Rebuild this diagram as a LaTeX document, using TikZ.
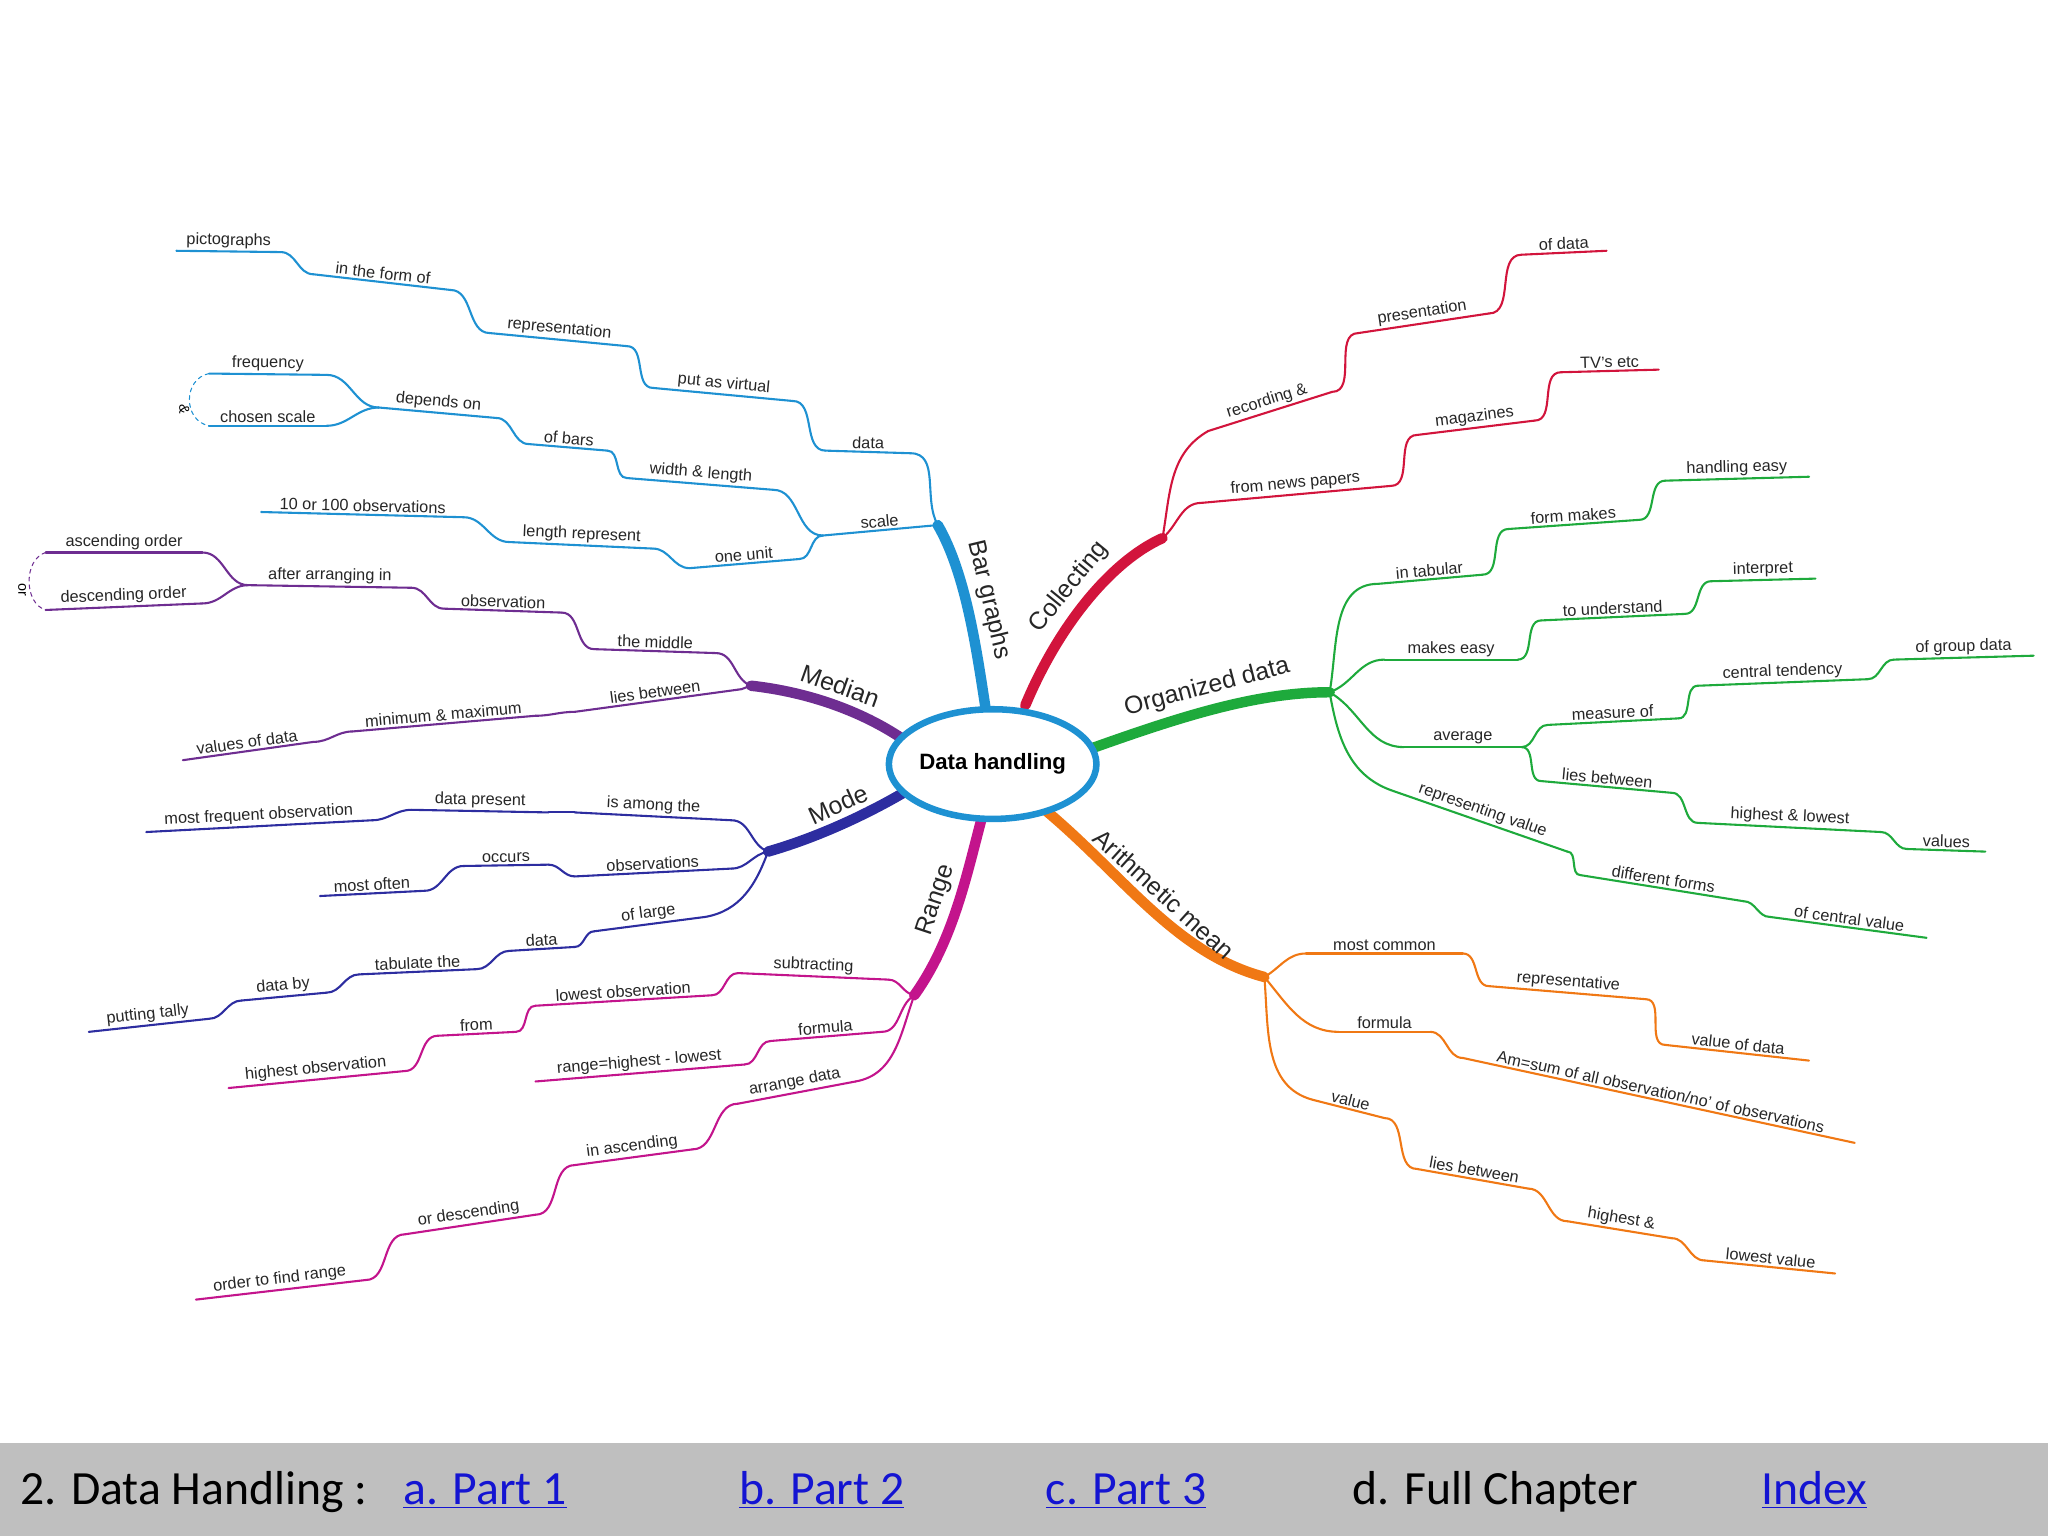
\documentclass[tikz,border=0pt]{standalone}
\usepackage{fontspec}
\usetikzlibrary{shapes.geometric}
\setmainfont{Liberation Sans}
\newfontfamily\foot{Carlito}
\definecolor{kb}{RGB}{30,145,210}
\definecolor{kp}{RGB}{110,45,145}
\definecolor{kn}{RGB}{45,45,160}
\definecolor{km}{RGB}{195,20,140}
\definecolor{kr}{RGB}{210,20,60}
\definecolor{kg}{RGB}{30,170,60}
\definecolor{ko}{RGB}{240,120,20}
\definecolor{lk}{RGB}{20,20,210}
\tikzset{seg/.style={line width=1.6pt,line cap=round},
 lbl/.style={midway,above=0pt,sloped,inner sep=1.5pt,font=\fontsize{12.5}{14}\selectfont,text=black!85},
 main/.style={line width=8pt,line cap=round},
 mlbl/.style={midway,above=1pt,sloped,font=\fontsize{19}{21}\selectfont,text=black!85},
 cl/.style={out=180,in=0}, crr/.style={out=0,in=180}}
\newcommand\sg[5]{\coordinate (#1-l) at (#3); \coordinate (#1-r) at (#4); \draw[#2,seg] (#1-l) -- (#1-r) node[lbl] {#5};}
\begin{document}
\begin{tikzpicture}[x=1pt,y=-1pt,every path/.style={line width=1.6pt,line cap=round}]
\useasboundingbox (0,0) rectangle (1568,1176);
\coordinate (c0) at (760,585);
\coordinate (hb) at (718,402); \coordinate (hr) at (890,412); \coordinate (hg) at (1018,530);
\coordinate (ho) at (968,748); \coordinate (hp) at (575,525); \coordinate (hn) at (588,652); \coordinate (hm) at (700,762);
\draw[main,kb] (hb) .. controls (740,440) and (748,500) .. (755,545) node[mlbl,pos=0.45] {Bar graphs};
\draw[main,kr] (785,540) .. controls (810,480) and (850,430) .. (hr) node[mlbl] {Collecting};
\draw[main,kg] (830,575) .. controls (900,550) and (960,530) .. (hg) node[mlbl] {Organized data};
\draw[main,ko] (800,620) .. controls (860,670) and (900,730) .. (ho) node[mlbl] {Arithmetic mean};
\draw[main,kp] (hp) .. controls (620,530) and (660,545) .. (690,565) node[mlbl] {Median};
\draw[main,kn] (hn) .. controls (630,640) and (670,620) .. (695,605) node[mlbl] {Mode};
\draw[main,km] (hm) .. controls (730,720) and (740,670) .. (752,625) node[mlbl] {Range};
\node[ellipse,draw=kb,line width=5pt,fill=white,minimum width=150pt,minimum height=84pt,inner sep=0pt,
 font=\fontsize{17}{19}\selectfont\bfseries] (center) at (c0) {Data handling};
% blue
\sg{b1}{kb}{632,345}{697,347}{data}
\sg{b2}{kb}{500,297}{607,307}{put as virtual}
\sg{b3}{kb}{375,255}{480,265}{representation}
\sg{b4}{kb}{240,210}{345,222}{in the form of}
\sg{b5}{kb}{135,192}{215,193}{pictographs}
\sg{b6}{kb}{630,410}{718,402}{scale}
\sg{b7}{kb}{480,366}{592,375}{width \& length}
\sg{b8}{kb}{405,340}{465,345}{of bars}
\sg{b9}{kb}{290,312}{380,320}{depends on}
\sg{bf}{kb}{160,286}{250,287}{frequency}
\sg{bc}{kb}{160,326}{250,326}{chosen scale}
\sg{b10}{kb}{528,435}{612,428}{one unit}
\sg{b11}{kb}{390,415}{500,420}{length represent}
\sg{b12}{kb}{200,392}{355,396}{10 or 100 observations}
\draw[kb] (hb) to[out=120,in=0] (b1-r);
\draw[kb] (b1-l) to[cl] (b2-r); \draw[kb] (b2-l) to[cl] (b3-r); \draw[kb] (b3-l) to[cl] (b4-r); \draw[kb] (b4-l) to[cl] (b5-r);
\draw[kb] (b6-l) to[cl] (b7-r); \draw[kb] (b7-l) to[cl] (b8-r); \draw[kb] (b8-l) to[cl] (b9-r);
\draw[kb] (b9-l) to[cl] (bf-r); \draw[kb] (b9-l) to[cl] (bc-r);
\draw[kb] (b6-l) to[cl] (b10-r); \draw[kb] (b10-l) to[cl] (b11-r); \draw[kb] (b11-l) to[cl] (b12-r);
\draw[kb,dashed,line width=0.8pt] (bf-l) .. controls (140,290) and (140,322) .. (bc-l);
\node[rotate=-90,font=\fontsize{11}{12}\selectfont] (amp) at (141,313) {\&};
% purple
\sg{p1}{kp}{440,545}{565,528}{lies between}
\sg{p2}{kp}{270,560}{410,548}{minimum \& maximum}
\sg{p3}{kp}{140,582}{240,568}{values of data}
\sg{p4}{kp}{455,497}{548,500}{the middle}
\sg{p5}{kp}{340,466}{430,469}{observation}
\sg{p6}{kp}{190,448}{315,450}{after arranging in}
\sg{pa}{kp}{35,423}{155,423}{ascending order}
\sg{pd}{kp}{35,467}{155,462}{descending order}
\draw[kp] (hp) to[out=190,in=0] (p1-r); \draw[kp] (hp) to[out=160,in=0] (p4-r);
\draw[kp] (p1-l) to[cl] (p2-r); \draw[kp] (p2-l) to[cl] (p3-r);
\draw[kp] (p4-l) to[cl] (p5-r); \draw[kp] (p5-l) to[cl] (p6-r);
\draw[kp] (p6-l) to[cl] (pa-r); \draw[kp] (p6-l) to[cl] (pd-r);
\draw[kp,dashed,line width=0.8pt] (pa-l) .. controls (18,428) and (18,462) .. (pd-l);
\node[rotate=-90,font=\fontsize{11}{12}\selectfont] (orp) at (17,452) {or};
% navy
\sg{n1}{kn}{440,622}{560,628}{is among the}
\sg{n2}{kn}{315,620}{420,622}{data present}
\sg{n3}{kn}{112,637}{285,628}{most frequent observation}
\sg{n4}{kn}{440,671}{560,665}{observations}
\sg{n5}{kn}{355,663}{420,662}{occurs}
\sg{n6}{kn}{245,686}{325,682}{most often}
\sg{n7}{kn}{455,713}{540,702}{of large}
\sg{n8}{kn}{390,728}{440,725}{data}
\sg{n9}{kn}{275,746}{365,742}{tabulate the}
\sg{n10}{kn}{185,766}{250,760}{data by}
\sg{n11}{kn}{68,790}{160,780}{putting tally}
\draw[kn] (hn) to[out=160,in=0] (n1-r); \draw[kn] (hn) to[out=190,in=0] (n4-r); \draw[kn] (hn) to[out=-110,in=10] (n7-r);
\draw[kn] (n1-l) to[cl] (n2-r); \draw[kn] (n2-l) to[cl] (n3-r);
\draw[kn] (n4-l) to[cl] (n5-r); \draw[kn] (n5-l) to[cl] (n6-r);
\draw[kn] (n7-l) to[cl] (n8-r); \draw[kn] (n8-l) to[cl] (n9-r); \draw[kn] (n9-l) to[cl] (n10-r); \draw[kn] (n10-l) to[cl] (n11-r);
% magenta
\sg{m1}{km}{565,745}{680,750}{subtracting}
\sg{m2}{km}{410,770}{545,762}{lowest observation}
\sg{m3}{km}{335,793}{395,790}{from}
\sg{m4}{km}{175,833}{310,820}{highest observation}
\sg{m5}{km}{590,797}{675,790}{formula}
\sg{m6}{km}{410,828}{570,815}{range=highest - lowest}
\sg{m7}{km}{565,845}{655,828}{arrange data}
\sg{m8}{km}{440,892}{530,880}{in ascending}
\sg{m9}{km}{310,945}{410,930}{or descending}
\sg{m10}{km}{150,995}{280,980}{order to find range}
\draw[km] (hm) to[out=170,in=0] (m1-r); \draw[km] (hm) to[out=-150,in=0] (m5-r); \draw[km] (hm) to[out=-110,in=10] (m7-r);
\draw[km] (m1-l) to[cl] (m2-r); \draw[km] (m2-l) to[cl] (m3-r); \draw[km] (m3-l) to[cl] (m4-r);
\draw[km] (m5-l) to[cl] (m6-r);
\draw[km] (m7-l) to[cl] (m8-r); \draw[km] (m8-l) to[cl] (m9-r); \draw[km] (m9-l) to[cl] (m10-r);
% red
\sg{r1}{kr}{925,330}{1020,300}{recording \&}
\sg{r2}{kr}{1040,255}{1140,240}{presentation}
\sg{r3}{kr}{1165,195}{1230,192}{of data}
\sg{r4}{kr}{920,385}{1065,372}{from news papers}
\sg{r5}{kr}{1085,333}{1175,322}{magazines}
\sg{r6}{kr}{1195,285}{1270,283}{TV's etc}
\draw[kr] (hr) to[out=80,in=210] (r1-l); \draw[kr] (hr) to[out=40,in=180] (r4-l);
\draw[kr] (r1-r) to[crr] (r2-l); \draw[kr] (r2-r) to[crr] (r3-l);
\draw[kr] (r4-r) to[crr] (r5-l); \draw[kr] (r5-r) to[crr] (r6-l);
% green
\sg{g1}{kg}{1055,447}{1135,440}{in tabular}
\sg{g2}{kg}{1155,405}{1255,398}{form makes}
\sg{g3}{kg}{1275,368}{1385,365}{handling easy}
\sg{g4}{kg}{1060,505}{1162,505}{makes easy}
\sg{g5}{kg}{1180,475}{1290,470}{to understand}
\sg{g6}{kg}{1310,445}{1390,443}{interpret}
\sg{g7}{kg}{1075,572}{1165,572}{average}
\sg{g8}{kg}{1185,555}{1285,550}{measure of}
\sg{g9}{kg}{1300,525}{1430,520}{central tendency}
\sg{g10}{kg}{1450,505}{1557,502}{of group data}
\sg{g11}{kg}{1180,598}{1280,607}{lies between}
\sg{g12}{kg}{1300,630}{1440,637}{highest \& lowest}
\sg{g13}{kg}{1460,650}{1520,652}{values}
\sg{g14}{kg}{1065,605}{1200,652}{representing value}
\sg{g15}{kg}{1210,670}{1335,690}{different forms}
\sg{g16}{kg}{1355,702}{1475,718}{of central value}
\draw[kg] (hg) to[out=80,in=180] (g1-l); \draw[kg] (hg) to[out=20,in=180] (g4-l);
\draw[kg] (hg) to[out=-30,in=180] (g7-l); \draw[kg] (hg) to[out=-80,in=160] (g14-l);
\draw[kg] (g1-r) to[crr] (g2-l); \draw[kg] (g2-r) to[crr] (g3-l);
\draw[kg] (g4-r) to[crr] (g5-l); \draw[kg] (g5-r) to[crr] (g6-l);
\draw[kg] (g7-r) to[crr] (g8-l); \draw[kg] (g8-r) to[crr] (g9-l); \draw[kg] (g9-r) to[crr] (g10-l);
\draw[kg] (g7-r) to[crr] (g11-l); \draw[kg] (g11-r) to[crr] (g12-l); \draw[kg] (g12-r) to[crr] (g13-l);
\draw[kg] (g14-r) to[crr] (g15-l); \draw[kg] (g15-r) to[crr] (g16-l);
% orange
\sg{o1}{ko}{1000,730}{1120,730}{most common}
\sg{o2}{ko}{1140,755}{1260,765}{representative}
\sg{o3}{ko}{1275,800}{1385,812}{value of data}
\sg{o4}{ko}{1025,790}{1095,790}{formula}
\sg{o5}{ko}{1120,810}{1420,875}{Am=sum of all observation/no' of observations}
\sg{o6}{ko}{1005,842}{1060,856}{value}
\sg{o7}{ko}{1085,895}{1170,910}{lies between}
\sg{o8}{ko}{1200,935}{1280,948}{highest \&}
\sg{o9}{ko}{1305,965}{1405,975}{lowest value}
\draw[ko] (ho) to[out=30,in=180] (o1-l); \draw[ko] (ho) to[out=-50,in=180] (o4-l); \draw[ko] (ho) to[out=-85,in=165] (o6-l);
\draw[ko] (o1-r) to[crr] (o2-l); \draw[ko] (o2-r) to[crr] (o3-l);
\draw[ko] (o4-r) to[crr] (o5-l);
\draw[ko] (o6-r) to[crr] (o7-l); \draw[ko] (o7-r) to[crr] (o8-l); \draw[ko] (o8-r) to[crr] (o9-l);
% footer
\fill[black!25] (0,1105) rectangle (1568,1176);
\begin{scope}[every node/.style={anchor=base west,inner sep=0pt,font=\foot\fontsize{36.5}{38}\selectfont}]
\node (f0) at (15,1152) {2. Data Handling :};
\node[text=lk] (f1) at (308,1152) {\underline{a. Part 1}};
\node[text=lk] (f2) at (565,1152) {\underline{b. Part 2}};
\node[text=lk] (f3) at (800,1152) {\underline{c. Part 3}};
\node (f4) at (1035,1152) {d. Full Chapter};
\node[text=lk] (f5) at (1348,1152) {\underline{Index}};
\end{scope}
\end{tikzpicture}
\end{document}
